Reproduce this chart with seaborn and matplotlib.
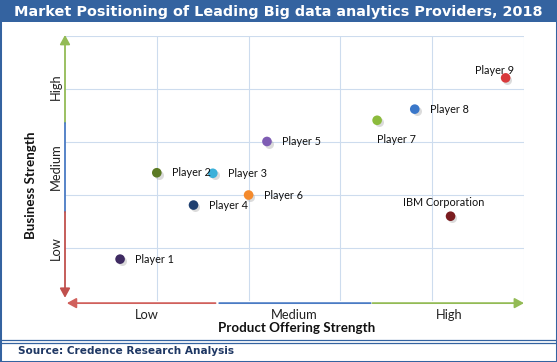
import matplotlib
matplotlib.use("Agg")
import matplotlib.pyplot as plt
from matplotlib.patches import Rectangle
from matplotlib.lines import Line2D
import seaborn as sns
import pandas as pd

# Data
players = ["Player 1", "Player 2", "Player 3", "Player 4", "Player 5",
           "Player 6", "Player 7", "Player 8", "Player 9", "IBM Corporation"]
product_strength = [0.60, 1.00, 1.61, 1.40, 2.20, 2.00, 3.40, 3.81, 4.80, 4.20]
business_strength = [0.79, 2.42, 2.41, 1.81, 3.01, 2.00, 3.41, 3.62, 4.21, 1.60]
colors = ["#3f2b62", "#5b7a24", "#3bb0d9", "#1f3f6f", "#7e5cb3",
          "#f48a2c", "#8cbb3c", "#3a77c9", "#d83a3c", "#7a1c1f"]
level_labels = ["Low", "Medium", "High"]

df = pd.DataFrame({"player": players, "x": product_strength, "y": business_strength})

sns.set_style("white")
plt.rcParams["font.family"] = ["Lato", "DejaVu Sans"]

W, H = 557, 362
fig = plt.figure(figsize=(W / 100, H / 100), dpi=100)

# frame, title bar, source bar
border = "#3463a0"
fig.patches.append(Rectangle((0, 0), 1, 1, transform=fig.transFigure,
                             fill=False, ec=border, lw=2.2, zorder=0))
fig.patches.append(Rectangle((0, 1 - 22 / H), 1, 22 / H, transform=fig.transFigure,
                             fc=border, ec="none", zorder=0))
for yy in (340, 342.5):
    fig.lines.append(Line2D([0, 1], [1 - yy / H] * 2, transform=fig.transFigure,
                            color=border, lw=0.9))
fig.text(0.5, 1 - 12 / H, "Market Positioning of Leading Big data analytics Providers, 2018",
         ha="center", va="center", color="white", fontsize=10.35, fontweight="bold",
         family="DejaVu Sans")
fig.text(18 / W, 1 - 350.5 / H, "Source: Credence Research Analysis", ha="left", va="center",
         color="#1f3864", fontsize=7.6, fontweight="bold", family="DejaVu Sans")

# axis titles
fig.text(297 / W, 1 - 328 / H, "Product Offering Strength", ha="center", va="center",
         fontsize=9.6, fontweight="bold", color="#111111")
fig.text(31 / W, 1 - 185 / H, "Business Strength", ha="center", va="center",
         rotation=90, fontsize=9.6, fontweight="bold", color="#111111")

ax = fig.add_axes([65 / W, 1 - 301 / H, 459 / W, 265 / H])
ax.set_xlim(0, 5)
ax.set_ylim(0, 5)
for s in ax.spines.values():
    s.set_visible(False)

# grid
ax.set_xticks([1, 2, 3, 4, 5])
ax.set_yticks([1, 2, 3, 4, 5])
ax.tick_params(which="major", length=0, labelbottom=False, labelleft=False)
ax.grid(True, color="#cddcee", lw=0.8)

# level labels as minor ticks
ax.xaxis.remove_overlapping_locs = False
ax.yaxis.remove_overlapping_locs = False
ax.set_xticks([0.89, 2.5, 4.18], level_labels, minor=True)
ax.set_yticks([1.0, 2.53, 4.04], level_labels, minor=True, rotation=90, va="center")
ax.tick_params(which="minor", length=0, labelsize=9.3, labelcolor="#222222")
ax.tick_params(axis="x", which="minor", pad=6)
ax.tick_params(axis="y", which="minor", pad=2)

# axis arrows
def seg(p0, p1, color, head):
    style = "-|>,head_length=0.55,head_width=0.3" if head else "-"
    ax.annotate("", xy=p1, xytext=p0, xycoords="data", annotation_clip=False,
                arrowprops=dict(arrowstyle=style, color=color, lw=1.3,
                                shrinkA=0, shrinkB=0))

seg((0, 3.36), (0, 5.02), "#93bb55", True)
seg((0, 1.68), (0, 3.36), "#4a7bc4", False)
seg((0, 1.68), (0, 0.06), "#c0504d", True)
seg((1.64, -0.04), (0.02, -0.04), "#d0605c", True)
seg((1.68, -0.04), (3.33, -0.04), "#4a7bc4", False)
seg((3.35, -0.04), (5.0, -0.04), "#93bb55", True)

# points with faint shadow
ax.scatter(df["x"] + 0.02, df["y"] - 0.04, s=42, color="#999999", alpha=0.35,
           lw=0, zorder=2)
sns.scatterplot(data=df, x="x", y="y", hue="player", palette=dict(zip(players, colors)),
                s=48, linewidth=0, legend=False, ax=ax, zorder=3)
ax.set_xlabel("")
ax.set_ylabel("")

# point labels
offsets = {"Player 7": (14, -14, "center"), "Player 9": (-8, 5, "center"),
           "IBM Corporation": (-5, 10, "center")}
for p, x, y in zip(players, product_strength, business_strength):
    dx, dy, ha = offsets.get(p, (11, 0, "left"))
    ax.annotate(p, (x, y), xytext=(dx, dy), textcoords="offset points",
                ha=ha, va="center", fontsize=7.8, color="#111111", zorder=4)

fig.savefig("out.png", dpi=100)
